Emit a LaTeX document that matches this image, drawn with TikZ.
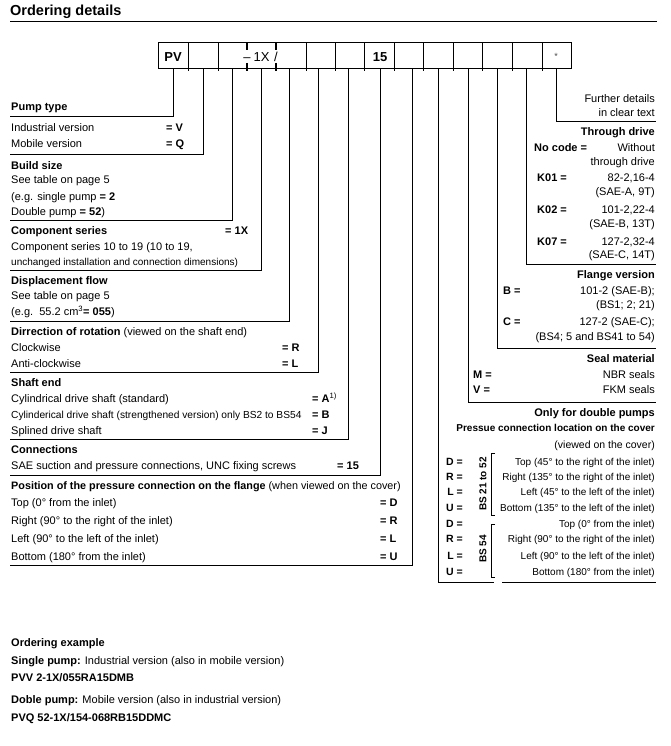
\documentclass[tikz,border=0pt]{standalone}
\usepackage{fontspec}
\setmainfont{Liberation Sans}
\newcommand\szA{\fontsize{11}{13}\selectfont}
\newcommand\szB{\fontsize{10}{12}\selectfont}
\newcommand\szE{\fontsize{10.8}{13}\selectfont}
\newcommand\szT{\fontsize{14.5}{17}\selectfont}
\newcommand\szC{\fontsize{13}{15}\selectfont}
\begin{document}
\begin{tikzpicture}[x=1pt,y=-1pt,
  lt/.style={inner sep=0pt,anchor=base west,font=\szA},
  rt/.style={inner sep=0pt,anchor=base east,font=\szA},
  hd/.style={lt,font=\szA\bfseries},
  rhd/.style={rt,font=\szA\bfseries},
  sm/.style={font=\szB},
  smb/.style={font=\szB\bfseries},
  ln/.style={line width=1pt},
  tk/.style={line width=1.8pt},
  cell/.style={inner sep=0pt,anchor=base,font=\szC}]
\useasboundingbox (0,0) rectangle (670,746);

% title
\node[inner sep=0pt,anchor=base west,font=\szT\bfseries] (title) at (10,16) {Ordering details};
\coordinate (ruleL) at (10,22);
\coordinate (ruleR) at (657,22);
\draw[ln] (ruleL) -- (ruleR);

% type code row
\draw[ln] (158,43) rectangle (571,69);
\foreach \x in {188,218,306,335,364,394,423,453,482,512,542}
  \draw[ln] (\x,43) -- (\x,71);
\foreach \x in {247,276} {
  \draw[tk] (\x,43) -- (\x,50);
  \draw[tk] (\x,63) -- (\x,71);
}
\node[cell,font=\szC\bfseries] (pv) at (173,61.5) {PV};
\node[cell] (dash) at (247,61.5) {\textendash};
\node[cell] (onex) at (261.5,61.5) {1X};
\node[cell] (slash) at (276,61.5) {/};
\node[cell,font=\szC\bfseries] (fifteen) at (380,61.5) {15};
\node[cell,font=\fontsize{9}{10}\selectfont,text=black!70] (star) at (556,60) {*};

% connector start points (cell bottoms)
\foreach \n/\x in {1/173,2/203,3/232,4/261,5/289,6/318,7/348,8/380,9/412,10/438,11/468,12/497,13/526,14/556}
  \coordinate (c\n) at (\x,69);

% connector end points
\coordinate (e1) at (10,117);
\coordinate (e2) at (10,155);
\coordinate (e3) at (10,220);
\coordinate (e4) at (10,270);
\coordinate (e5) at (10,321);
\coordinate (e6) at (10,372);
\coordinate (e7) at (10,439);
\coordinate (e8) at (10,475);
\coordinate (e9) at (10,565);
\coordinate (e10) at (494,582);
\coordinate (g10) at (502,582);
\coordinate (f10) at (656,582);
\coordinate (e11) at (656,402);
\coordinate (e12) at (656,348);
\coordinate (e13) at (656,264);
\coordinate (e14) at (656,122);

\foreach \n in {1,...,9,11,12,13,14}
  \draw[ln] (c\n) |- (e\n);
\draw[ln] (c10) |- (e10);
\draw[ln] (g10) -- (f10);

% ---------- left column ----------
\node[hd] (pt) at (11,110.5) {Pump type};
\node[lt] (pt1) at (11,131.5) {Industrial version};
\node[lt,font=\szA\bfseries] (pt1v) at (166,131.5) {= V};
\node[lt] (pt2) at (11,147.5) {Mobile version};
\node[lt,font=\szA\bfseries] (pt2v) at (166,147.5) {= Q};

\node[hd] (bs) at (11,169.5) {Build size};
\node[lt] (bs1) at (11,183.5) {See table on page 5};
\node[lt] (bs2) at (11,200.5) {(e.g. single pump \textbf{= 2}};
\node[lt] (bs3) at (11,215.5) {Double pump \textbf{= 52})};

\node[hd] (cs) at (11,234.5) {Component series};
\node[lt,font=\szA\bfseries] (csv) at (225,234.5) {= 1X};
\node[lt] (cs1) at (11,250.5) {Component series 10 to 19 (10 to 19,};
\node[lt,sm] (cs2) at (11,265) {unchanged installation and connection dimensions)};

\node[hd] (df) at (11,284.5) {Displacement flow};
\node[lt] (df1) at (11,299.5) {See table on page 5};
\node[lt] (df2) at (11,315.5) {(e.g.\ \ 55.2 cm\textsuperscript{3}\textbf{= 055})};

\node[hd] (dr) at (11,335.5) {Dirrection of rotation \normalfont(viewed on the shaft end)};
\node[lt] (dr1) at (11,351.5) {Clockwise};
\node[lt,font=\szA\bfseries] (dr1v) at (282,351.5) {= R};
\node[lt] (dr2) at (11,367.5) {Anti-clockwise};
\node[lt,font=\szA\bfseries] (dr2v) at (282,367.5) {= L};

\node[hd] (se) at (11,386.5) {Shaft end};
\node[lt] (se1) at (11,402.5) {Cylindrical drive shaft (standard)};
\node[lt,font=\szA\bfseries] (se1v) at (312,402.5) {= A\textsuperscript{\normalfont 1)}};
\node[lt,font=\fontsize{10.2}{12}\selectfont] (se2) at (11,418.5) {Cylinderical drive shaft (strengthened version) only BS2 to BS54};
\node[lt,font=\szA\bfseries] (se2v) at (312,418.5) {= B};
\node[lt] (se3) at (11,434.5) {Splined drive shaft};
\node[lt,font=\szA\bfseries] (se3v) at (312,434.5) {= J};

\node[hd] (cn) at (11,453.5) {Connections};
\node[lt] (cn1) at (11,469.5) {SAE suction and pressure connections, UNC fixing screws};
\node[lt,font=\szA\bfseries] (cn1v) at (337,469.5) {= 15};

\node[lt,font=\szE\bfseries] (pp) at (11,489.5) {Position of the pressure connection on the flange \normalfont(when viewed on the cover)};
\node[lt] (pp1) at (11,506.5) {Top (0° from the inlet)};
\node[lt,font=\szA\bfseries] (pp1v) at (380,506.5) {= D};
\node[lt] (pp2) at (11,524.5) {Right (90° to the right of the inlet)};
\node[lt,font=\szA\bfseries] (pp2v) at (380,524.5) {= R};
\node[lt] (pp3) at (11,542.5) {Left (90° to the left of the inlet)};
\node[lt,font=\szA\bfseries] (pp3v) at (380,542.5) {= L};
\node[lt] (pp4) at (11,560.5) {Bottom (180° from the inlet)};
\node[lt,font=\szA\bfseries] (pp4v) at (380,560.5) {= U};

% ---------- right column ----------
\node[rt] (fd1) at (655,102.5) {Further details};
\node[rt] (fd2) at (655,116.5) {in clear text};

\node[rhd] (td) at (655,135.5) {Through drive};
\node[lt,font=\szA\bfseries] (td0) at (534,151.5) {No code =};
\node[rt] (td0a) at (655,151.5) {Without};
\node[rt] (td0b) at (655,165.5) {through drive};
\node[lt,font=\szA\bfseries] (td1) at (537,181.5) {K01 =};
\node[rt] (td1a) at (655,181.5) {82-2,16-4};
\node[rt] (td1b) at (655,195.5) {(SAE-A, 9T)};
\node[lt,font=\szA\bfseries] (td2) at (537,213.5) {K02 =};
\node[rt] (td2a) at (655,213.5) {101-2,22-4};
\node[rt] (td2b) at (655,227.5) {(SAE-B, 13T)};
\node[lt,font=\szA\bfseries] (td3) at (537,245.5) {K07 =};
\node[rt] (td3a) at (655,245.5) {127-2,32-4};
\node[rt] (td3b) at (655,258.5) {(SAE-C, 14T)};

\node[rhd] (fv) at (655,278.5) {Flange version};
\node[lt,font=\szA\bfseries] (fv1) at (503,294.5) {B =};
\node[rt] (fv1a) at (655,294.5) {101-2 (SAE-B);};
\node[rt] (fv1b) at (655,308.5) {(BS1; 2; 21)};
\node[lt,font=\szA\bfseries] (fv2) at (503,325.5) {C =};
\node[rt] (fv2a) at (655,325.5) {127-2 (SAE-C);};
\node[rt] (fv2b) at (655,340.5) {(BS4; 5 and BS41 to 54)};

\node[rhd] (sm) at (655,362.5) {Seal material};
\node[lt,font=\szA\bfseries] (sm1) at (473,378.5) {M =};
\node[rt] (sm1a) at (655,378.5) {NBR seals};
\node[lt,font=\szA\bfseries] (sm2) at (473,393.5) {V =};
\node[rt] (sm2a) at (655,393.5) {FKM seals};

\node[rhd] (dp) at (655,416.5) {Only for double pumps};
\node[rt,smb] (dp1) at (655,431.5) {Pressue connection location on the cover};
\node[rt,font=\fontsize{10.5}{12}\selectfont] (dp2) at (655,448.5) {(viewed on the cover)};

\foreach \n/\y/\l/\t in {1/465.5/D/Top (45° to the right of the inlet),
                        2/480.5/R/Right (135° to the right of the inlet),
                        3/495.5/L/Left (45° to the left of the inlet),
                        4/511.5/U/Bottom (135° to the left of the inlet),
                        5/527.5/D/Top (0° from the inlet),
                        6/542.5/R/Right (90° to the right of the inlet),
                        7/559.5/L/Left (90° to the left of the inlet),
                        8/575.5/U/Bottom (180° from the inlet)} {
  \node[rt,font=\fontsize{10.5}{12}\selectfont\bfseries] (dl\n) at (463,\y) {\l\ =};
  \node[rt,font=\szB] (dt\n) at (655,\y) {\t};
}
\node[inner sep=0pt,rotate=90,font=\szB\bfseries] (bsa) at (483,484) {BS 21 to 52};
\node[inner sep=0pt,rotate=90,font=\szB\bfseries] (bsb) at (483,549) {BS 54};
\draw[line width=0.8pt] (495,453) -- (491,453) -- (491,515) -- (495,515);
\draw[line width=0.8pt] (495,524) -- (491,524) -- (491,577) -- (495,577);

% ---------- ordering example ----------
\node[hd] (oe) at (11,646.5) {Ordering example};
\node[lt] (oe1) at (11,664.5) {\textbf{Single pump:} Industrial version (also in mobile version)};
\node[hd] (oe2) at (11,681.5) {PVV 2-1X/055RA15DMB};
\node[lt] (oe3) at (11,703.5) {\textbf{Doble pump:} Mobile version (also in industrial version)};
\node[hd] (oe4) at (11,721.5) {PVQ 52-1X/154-068RB15DDMC};
\end{tikzpicture}
\end{document}
